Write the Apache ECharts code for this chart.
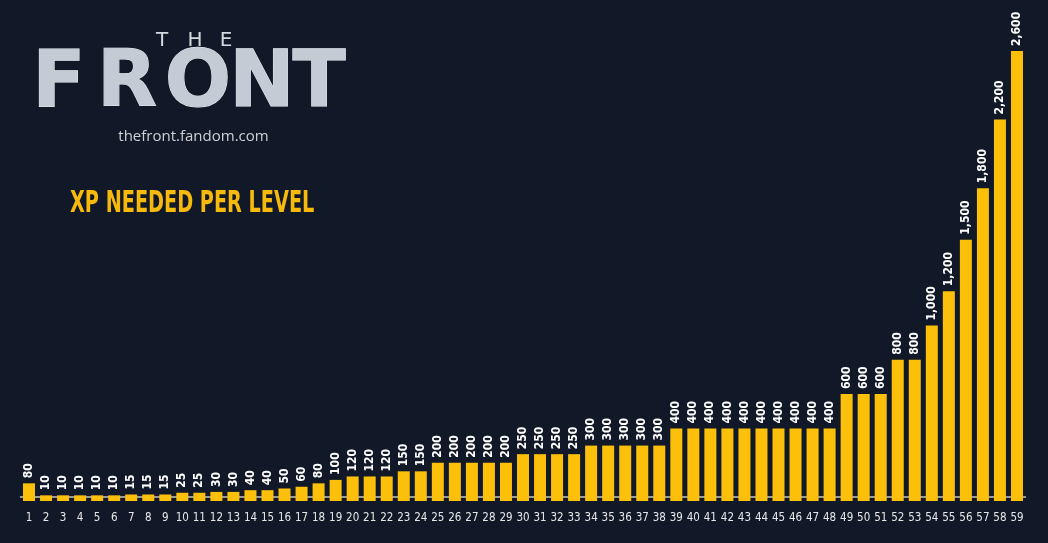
<!DOCTYPE html>
<html>
<head>
<meta charset="utf-8">
<script src="https://cdn.jsdelivr.net/npm/echarts@6/dist/echarts.min.js"></script>
<style>
  html, body { margin: 0; padding: 0; background: #111827; }
  #chart { width: 1048px; height: 543px; }
</style>
</head>
<body>
<div id="chart"></div>
<script>
// levels (x axis tick labels)
var levels = ['1','2','3','4','5','6','7','8','9','10','11','12','13','14','15','16','17','18','19','20',
  '21','22','23','24','25','26','27','28','29','30','31','32','33','34','35','36','37','38','39','40',
  '41','42','43','44','45','46','47','48','49','50','51','52','53','54','55','56','57','58','59'];

// xp needed for each level
var xpNeeded = [80, 10, 10, 10, 10, 10, 15, 15, 15, 25, 25, 30, 30, 40, 40, 50, 60, 80, 100, 120,
  120, 120, 150, 150, 200, 200, 200, 200, 200, 250, 250, 250, 250, 300, 300, 300, 300, 300, 400, 400,
  400, 400, 400, 400, 400, 400, 400, 400, 600, 600, 600, 800, 800, 1000, 1200, 1500, 1800, 2200, 2600];

var chartTitle = 'XP NEEDED PER LEVEL';
var siteName = 'thefront.fandom.com';

var narrow = '"DejaVu Sans Condensed", sans-serif';

(function () {
  var myChart = echarts.init(document.getElementById('chart'));

  // logo letters, drawn one by one so the spacing looks like the original
  var bigLetters = [['F', 59], ['R', 127], ['O', 198], ['N', 262], ['T', 319]];
  var smallLetters = [['T', 162], ['H', 195], ['E', 226]];
  var logo = [];
  bigLetters.forEach(function (l) {
    logo.push({
      type: 'text', x: l[1], y: 86,
      style: {
        text: l[0], fill: '#c3ccd5', stroke: '#e9eef2', lineWidth: 1,
        align: 'center', verticalAlign: 'middle',
        font: 'bold 78px "DejaVu Sans", sans-serif'
      }
    });
  });
  smallLetters.forEach(function (l) {
    logo.push({
      type: 'text', x: l[1], y: 41,
      style: {
        text: l[0], fill: '#d4d9de', align: 'center', verticalAlign: 'middle',
        font: '20px "DejaVu Sans", sans-serif'
      }
    });
  });

  var option = {
    backgroundColor: '#111827',
    animation: false,
    grid: {
      left: 20.5,
      right: 22.5,
      top: 51,
      bottom: 42,
      containLabel: false
    },
    graphic: logo.concat([
      {
        type: 'text', x: 193.5, y: 137,
        style: {
          text: siteName, fill: '#cdd1d6', align: 'center', verticalAlign: 'middle',
          font: '15px "Open Sans", sans-serif'
        }
      },
      {
        type: 'text', x: 70, y: 204, scaleX: 0.69,
        style: {
          text: chartTitle, fill: '#f6b90c', align: 'left', verticalAlign: 'middle',
          font: 'bold 31px ' + narrow
        }
      }
    ]),
    xAxis: {
      type: 'category',
      data: levels,
      axisTick: { show: false },
      axisLine: { lineStyle: { color: '#c4c6ca', width: 1.5 } },
      axisLabel: {
        interval: 0,
        color: '#e8e8e8',
        fontFamily: narrow,
        fontSize: 11.5,
        margin: 11
      }
    },
    yAxis: {
      type: 'value',
      min: -23,
      max: 2600,
      startValue: -23,
      show: false,
      splitLine: { show: false }
    },
    series: [
      {
        type: 'bar',
        data: xpNeeded,
        barWidth: 12,
        itemStyle: { color: '#fcc00a' },
        label: {
          show: true,
          position: 'top',
          rotate: 90,
          align: 'left',
          verticalAlign: 'middle',
          distance: 5,
          color: '#ffffff',
          fontFamily: narrow,
          fontWeight: 'bold',
          fontSize: 12,
          formatter: function (p) {
            return p.value.toLocaleString('en-US');
          }
        }
      }
    ]
  };
  myChart.setOption(option);
})();
</script>
</body>
</html>
